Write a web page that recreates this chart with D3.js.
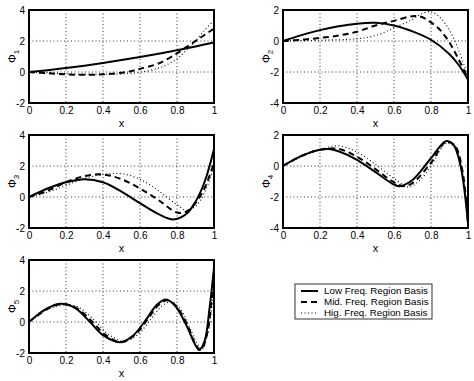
<!DOCTYPE html>
<html>
<head>
<meta charset="utf-8">
<script src="https://cdn.jsdelivr.net/npm/d3@7"></script>
<style>
  body { margin: 0; background: #fff; }
  text { font-family: "Liberation Sans", Arial, sans-serif; fill: #000; }
</style>
</head>
<body>
<div class="chart"></div>
<script>
// legend entries
const seriesNames = ["Low Freq. Region Basis", "Mid. Freq. Region Basis", "Hig. Freq. Region Basis"];
const xTicks = [0, 0.2, 0.4, 0.6, 0.8, 1];
const yTicksA = [-2, 0, 2, 4];
const yTicksB = [-4, -2, 0, 2];

// Phi 1  ([x, phi])
const phi1Low  = [[0,0],[0.1,0.12],[0.2,0.26],[0.3,0.41],[0.4,0.58],[0.5,0.77],[0.6,0.97],[0.7,1.18],[0.8,1.4],[0.9,1.65],[1,1.9]];
const phi1Mid  = [[0,0],[0.1,-0.08],[0.2,-0.15],[0.3,-0.18],[0.4,-0.15],[0.5,-0.05],[0.55,0.05],[0.6,0.2],[0.7,0.55],[0.8,1.2],[0.85,1.6],[0.9,2.0],[0.95,2.4],[1,2.8]];
const phi1High = [[0,0],[0.1,-0.05],[0.2,-0.12],[0.3,-0.15],[0.4,-0.15],[0.5,-0.12],[0.6,-0.02],[0.7,0.25],[0.75,0.5],[0.8,0.85],[0.85,1.4],[0.9,2.0],[0.95,2.7],[1,3.35]];

// Phi 2
const phi2Low  = [[0,0],[0.1,0.38],[0.2,0.7],[0.3,0.95],[0.4,1.12],[0.5,1.17],[0.6,1.0],[0.7,0.62],[0.8,0.08],[0.9,-0.85],[0.95,-1.55],[1,-2.5]];
const phi2Mid  = [[0,0],[0.1,0.08],[0.2,0.2],[0.3,0.35],[0.4,0.6],[0.5,1.0],[0.6,1.3],[0.7,1.6],[0.75,1.55],[0.8,1.2],[0.85,0.7],[0.9,-0.1],[0.95,-1.2],[1,-2.4]];
const phi2High = [[0,0],[0.2,0.05],[0.4,0.15],[0.5,0.35],[0.6,0.85],[0.7,1.4],[0.75,1.75],[0.8,1.9],[0.85,1.5],[0.9,0.7],[0.95,-0.6],[1,-2.3]];

// Phi 3
const phi3Low  = [[0,0],[0.1,0.55],[0.2,0.95],[0.3,1.15],[0.4,0.95],[0.5,0.35],[0.6,-0.4],[0.7,-1.1],[0.78,-1.45],[0.85,-1.1],[0.9,-0.3],[0.95,1.0],[1,3.1]];
const phi3Mid  = [[0,0],[0.1,0.4],[0.2,0.95],[0.3,1.35],[0.4,1.45],[0.5,1.15],[0.6,0.55],[0.7,-0.2],[0.8,-1.0],[0.85,-0.95],[0.9,-0.4],[0.95,0.6],[1,2.2]];
const phi3High = [[0,0],[0.1,0.3],[0.2,0.75],[0.3,1.2],[0.4,1.45],[0.5,1.5],[0.6,1.15],[0.7,0.4],[0.8,-0.5],[0.85,-0.85],[0.9,-0.6],[0.95,0.3],[1,2.0]];

// Phi 4
const phi4Low  = [[0,0],[0.1,0.65],[0.2,1.05],[0.25,1.1],[0.3,0.95],[0.4,0.4],[0.5,-0.4],[0.6,-1.2],[0.63,-1.3],[0.7,-0.9],[0.8,0.5],[0.88,1.6],[0.92,1.4],[0.96,0],[1,-3.7]];
const phi4Mid  = [[0,0],[0.1,0.65],[0.2,1.05],[0.3,1.1],[0.4,0.6],[0.5,-0.2],[0.6,-1.05],[0.65,-1.3],[0.7,-1.1],[0.8,0.2],[0.88,1.55],[0.93,1.3],[0.97,-0.3],[1,-3.7]];
const phi4High = [[0,0],[0.1,0.6],[0.2,1.05],[0.3,1.3],[0.4,0.9],[0.5,0.1],[0.6,-0.8],[0.68,-1.35],[0.75,-0.8],[0.82,0.4],[0.88,1.45],[0.93,1.2],[0.97,-0.4],[1,-3.7]];

// Phi 5
const phi5Low  = [[0,0],[0.05,0.5],[0.1,0.9],[0.17,1.18],[0.25,0.9],[0.33,0],[0.4,-0.85],[0.49,-1.3],[0.56,-0.9],[0.63,0.1],[0.69,1.1],[0.74,1.45],[0.79,1.05],[0.85,-0.2],[0.9,-1.5],[0.92,-1.8],[0.95,-1.2],[0.975,0.8],[1,3.5]];
const phi5Mid  = [[0,0],[0.05,0.45],[0.1,0.85],[0.17,1.15],[0.25,0.95],[0.34,0.05],[0.41,-0.8],[0.5,-1.3],[0.57,-0.85],[0.64,0.15],[0.7,1.1],[0.75,1.4],[0.8,0.95],[0.86,-0.3],[0.9,-1.45],[0.93,-1.8],[0.96,-0.9],[0.98,0.6],[1,3.3]];
const phi5High = [[0,0],[0.05,0.4],[0.1,0.8],[0.18,1.1],[0.26,1.0],[0.35,0.15],[0.43,-0.8],[0.52,-1.25],[0.59,-0.8],[0.66,0.2],[0.72,1.05],[0.77,1.3],[0.82,0.8],[0.87,-0.4],[0.91,-1.4],[0.935,-1.75],[0.965,-0.8],[0.985,0.6],[1,3.0]];

let w = 474, h = 381;

let panels = [
    { n: 1, left: 29,  top: 10,  yTicks: yTicksA, lines: [phi1Low, phi1Mid, phi1High] },
    { n: 2, left: 283, top: 10,  yTicks: yTicksB, lines: [phi2Low, phi2Mid, phi2High] },
    { n: 3, left: 29,  top: 135, yTicks: yTicksA, lines: [phi3Low, phi3Mid, phi3High] },
    { n: 4, left: 283, top: 135, yTicks: yTicksB, lines: [phi4Low, phi4Mid, phi4High] },
    { n: 5, left: 29,  top: 260, yTicks: yTicksA, lines: [phi5Low, phi5Mid, phi5High] }
];
let pw = 185, ph = 93;

// solid / dashed / dotted
let styles = [
    { width: 2,   dash: null },
    { width: 2,   dash: "6,4" },
    { width: 1.1, dash: "1,2.5" }
];

let svg = d3.select(".chart")
    .append("svg")
    .attr("width", w)
    .attr("height", h);

panels.forEach(function (p) {
    let g = svg.append("g").attr("transform", "translate(" + p.left + "," + p.top + ")");

    let x = d3.scaleLinear().domain([0, 1]).range([0, pw]);
    let y = d3.scaleLinear().domain(d3.extent(p.yTicks)).range([ph, 0]);

    // dotted grid
    g.append("g")
        .selectAll("line")
        .data(xTicks.slice(1, -1))
        .enter().append("line")
        .attr("x1", d => x(d)).attr("x2", d => x(d))
        .attr("y1", 0).attr("y2", ph)
        .attr("stroke", "#000").attr("stroke-width", 0.8).attr("stroke-dasharray", "1,2.5");
    g.append("g")
        .selectAll("line")
        .data(p.yTicks.slice(1, -1))
        .enter().append("line")
        .attr("y1", d => y(d)).attr("y2", d => y(d))
        .attr("x1", 0).attr("x2", pw)
        .attr("stroke", "#000").attr("stroke-width", 0.8).attr("stroke-dasharray", "1,2.5");

    // axes (labels only, no outer path)
    let xAxis = g.append("g")
        .attr("transform", "translate(0," + ph + ")")
        .call(d3.axisBottom(x).tickValues(xTicks).tickSize(0).tickPadding(4).tickFormat(d => String(d)));
    let yAxis = g.append("g")
        .call(d3.axisLeft(y).tickValues(p.yTicks).tickSize(0).tickPadding(4).tickFormat(d => String(d)));
    [xAxis, yAxis].forEach(function (a) {
        a.select(".domain").remove();
        a.selectAll("text").attr("font-size", "10px").attr("font-family", "Liberation Sans, Arial, sans-serif").attr("fill", "#000");
    });

    // curves
    let line = d3.line()
        .x(d => x(d[0]))
        .y(d => y(d[1]))
        .curve(d3.curveCatmullRom.alpha(0.5));

    g.append("g")
        .selectAll("path")
        .data(p.lines)
        .enter().append("path")
        .attr("d", d => line(d))
        .attr("fill", "none")
        .attr("stroke", "#000")
        .attr("stroke-width", (d, i) => styles[i].width)
        .attr("stroke-dasharray", (d, i) => styles[i].dash);

    // box
    g.append("rect")
        .attr("width", pw).attr("height", ph)
        .attr("fill", "none").attr("stroke", "#000").attr("stroke-width", 2);

    // axis titles
    g.append("text")
        .attr("x", pw / 2).attr("y", ph + 24)
        .attr("text-anchor", "middle")
        .attr("font-size", "11px")
        .text("x");

    let yl = g.append("text")
        .attr("transform", "translate(-13," + (ph / 2) + ") rotate(-90)")
        .attr("text-anchor", "middle")
        .attr("font-size", "11px");
    yl.append("tspan").text("Φ");
    yl.append("tspan").attr("font-size", "8px").attr("dy", 3).text(p.n);
});

// legend
let lg = svg.append("g").attr("transform", "translate(295,284)");
lg.append("rect")
    .attr("width", 137).attr("height", 35)
    .attr("fill", "#fff").attr("stroke", "#333").attr("stroke-width", 1);

let items = lg.selectAll(".item")
    .data(seriesNames)
    .enter().append("g")
    .attr("class", "item")
    .attr("transform", (d, i) => "translate(0," + (7 + i * 11) + ")");

items.append("line")
    .attr("x1", 6).attr("x2", 23)
    .attr("stroke", "#000")
    .attr("stroke-width", (d, i) => styles[i].width)
    .attr("stroke-dasharray", (d, i) => styles[i].dash);

items.append("text")
    .attr("x", 29).attr("dy", "0.35em")
    .attr("font-size", "9.8px")
    .text(d => d);
</script>
</body>
</html>
